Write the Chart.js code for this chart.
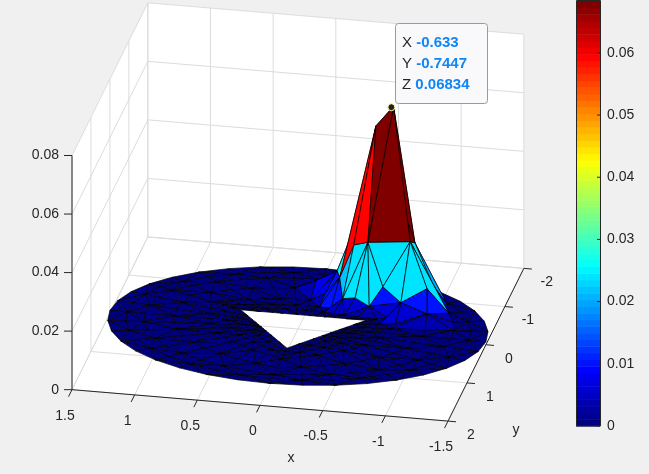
<!DOCTYPE html>
<html>
<head>
<meta charset="utf-8">
<script src="https://cdn.jsdelivr.net/npm/chart.js@4"></script>
<style>
  html, body { margin: 0; padding: 0; background: #f0f0f0; }
  canvas { display: block; }
</style>
</head>
<body>
<canvas id="c" width="649" height="474"></canvas>
<script>
// axis ticks
const xTicks = [1.5, 1, 0.5, 0, -0.5, -1, -1.5];
const yTicks = [-2, -1, 0, 1, 2];
const zTicks = [0, 0.02, 0.04, 0.06, 0.08];
const cbTicks = [0, 0.01, 0.02, 0.03, 0.04, 0.05, 0.06];

// mesh: disk radius 1.5 with a triangular hole, rings x angle steps
const outerR = 1.5;
const holeInR = 0.2887;
const ringFractions = [0, 0.1, 0.2, 0.32, 0.56, 0.76, 0.88, 1];
const angleCount = 36;
const baseZ = 0.001;
// raised nodes: [ring, angleIndex, z]
const raisedNodes = [
  [4, 20, 0.004], [4, 21, 0.010], [4, 22, 0.024], [4, 23, 0.06834], [4, 24, 0.060], [4, 25, 0.026], [4, 26, 0.008], [4, 27, 0.004],
  [3, 21, 0.006], [3, 22, 0.010], [3, 23, 0.024], [3, 24, 0.022], [3, 25, 0.010], [3, 26, 0.004],
  [5, 22, 0.008], [5, 23, 0.020], [5, 24, 0.018], [5, 25, 0.008],
  [2, 22, 0.004], [2, 23, 0.006], [2, 24, 0.005],
  [6, 23, 0.005], [6, 24, 0.004]
];
const tip = { x: -0.633, y: -0.7447, z: 0.06834 };
const cMax = 0.06834;

// view: screen = O + x*ex + y*ey + z*ez
const O = [297.5, 331], ex = [-127.3, -10.7], ey = [-19.25, 39], ez = [0, -2990];
function proj(x, y, z) {
  return [O[0] + x * ex[0] + y * ey[0] + z * ez[0], O[1] + x * ex[1] + y * ey[1] + z * ez[1]];
}
function depth(x, y, z) { return (-10.7 * x + 39 * y) * 3.04 + 2990 * z * 0.325; }

function jet(t) {
  t = Math.min(1, Math.max(0, t));
  t = Math.floor(t * 63) / 63;
  const c = v => Math.round(255 * Math.min(1, Math.max(0, v)));
  return `rgb(${c(1.5 - Math.abs(4 * t - 3))},${c(1.5 - Math.abs(4 * t - 2))},${c(1.5 - Math.abs(4 * t - 1))})`;
}

function buildMesh() {
  const zMap = {};
  raisedNodes.forEach(([k, j, z]) => zMap[k + ',' + j] = z);
  const nodes = [];
  ringFractions.forEach((f, k) => {
    nodes.push([]);
    for (let j = 0; j < angleCount; j++) {
      const a = j * 2 * Math.PI / angleCount;
      let m = -1;
      [270, 30, 150].forEach(n => m = Math.max(m, Math.cos(a - n * Math.PI / 180)));
      const rin = holeInR / m;
      const r = rin + (outerR - rin) * f;
      const z = zMap[k + ',' + j] !== undefined ? zMap[k + ',' + j] : baseZ;
      nodes[k].push([r * Math.cos(a), r * Math.sin(a), z]);
    }
  });
  const tris = [];
  for (let k = 0; k < ringFractions.length - 1; k++) {
    for (let j = 0; j < angleCount; j++) {
      const j2 = (j + 1) % angleCount;
      const a = nodes[k][j], b = nodes[k][j2], c = nodes[k + 1][j], d = nodes[k + 1][j2];
      if ((j + k) % 2 === 0) { tris.push([a, b, d]); tris.push([a, d, c]); }
      else { tris.push([a, b, c]); tris.push([b, d, c]); }
    }
  }
  return tris;
}
const tris = buildMesh();

const scenePlugin = {
  id: 'scene',
  beforeDatasetsDraw(chart) {
    const ctx = chart.ctx;
    const sx = chart.scales.x, sy = chart.scales.y;
    const P = (x, y, z) => { const p = proj(x, y, z); return [sx.getPixelForValue(p[0]), sy.getPixelForValue(p[1])]; };
    const line = (p, q, col, w) => {
      ctx.beginPath(); ctx.moveTo(p[0], p[1]); ctx.lineTo(q[0], q[1]);
      ctx.strokeStyle = col; ctx.lineWidth = w; ctx.stroke();
    };
    const zTop = 0.08;
    // white back panes
    ctx.save();
    ctx.fillStyle = '#ffffff';
    ctx.beginPath();
    [[1.5, 2, 0], [1.5, 2, zTop], [1.5, -2, zTop], [-1.5, -2, zTop], [-1.5, -2, 0], [-1.5, 2, 0]].forEach((v, i) => {
      const p = P(...v); i ? ctx.lineTo(p[0], p[1]) : ctx.moveTo(p[0], p[1]);
    });
    ctx.closePath(); ctx.fill();
    // grid
    const g = '#dcdcdc';
    xTicks.forEach(x => { line(P(x, 2, 0), P(x, -2, 0), g, 1); line(P(x, -2, 0), P(x, -2, zTop), g, 1); });
    yTicks.forEach(y => { line(P(1.5, y, 0), P(-1.5, y, 0), g, 1); line(P(1.5, y, 0), P(1.5, y, zTop), g, 1); });
    zTicks.forEach(z => { line(P(1.5, 2, z), P(1.5, -2, z), g, 1); line(P(1.5, -2, z), P(-1.5, -2, z), g, 1); });
    // surface
    const sorted = tris.map(t => ({ t, d: t.reduce((s, v) => s + depth(...v), 0) / 3 }))
      .sort((a, b) => a.d - b.d);
    ctx.lineJoin = 'round';
    sorted.forEach(({ t }) => {
      const zc = Math.max(t[0][2], t[1][2], t[2][2]);
      ctx.beginPath();
      t.forEach((v, i) => { const p = P(...v); i ? ctx.lineTo(p[0], p[1]) : ctx.moveTo(p[0], p[1]); });
      ctx.closePath();
      ctx.fillStyle = jet(zc / cMax); ctx.fill();
      ctx.strokeStyle = '#000'; ctx.lineWidth = 0.7; ctx.stroke();
    });
    // axes
    const ax = '#262626';
    line(P(1.5, 2, 0), P(-1.5, 2, 0), ax, 1);
    line(P(-1.5, 2, 0), P(-1.5, -2, 0), ax, 1);
    line(P(1.5, 2, 0), P(1.5, 2, zTop), ax, 1);
    ctx.fillStyle = ax;
    ctx.font = '14px "Liberation Sans", Arial, sans-serif';
    ctx.textBaseline = 'middle';
    ctx.textAlign = 'center';
    xTicks.forEach(x => {
      const p = P(x, 2, 0);
      line(p, [p[0] - 3.5, p[1] + 7], ax, 1);
      ctx.fillText(String(x), p[0] - 7, p[1] + 26);
    });
    yTicks.forEach(y => {
      const p = P(-1.5, y, 0);
      line(p, [p[0] + 8, p[1] + 0.7], ax, 1);
      ctx.fillText(String(y), p[0] + 23, p[1] + 14);
    });
    ctx.textAlign = 'right';
    zTicks.forEach(z => {
      const p = P(1.5, 2, z);
      line(p, [p[0] - 8, p[1]], ax, 1);
      ctx.fillText(String(z), p[0] - 13, p[1]);
    });
    ctx.textAlign = 'center';
    const xl = P(0, 2, 0), yl = P(-1.5, 0, 0);
    ctx.fillText('x', xl[0] + 31, xl[1] + 53);
    ctx.fillText('y', yl[0] + 30, yl[1] + 85);
    // colorbar
    const cb = { l: 576, r: 600, top: 1, bot: 426 };
    for (let i = 0; i < 64; i++) {
      const y0 = cb.bot - (cb.bot - cb.top) * (i + 1) / 64, y1 = cb.bot - (cb.bot - cb.top) * i / 64;
      ctx.fillStyle = jet(i / 63);
      ctx.fillRect(cb.l, y0, cb.r - cb.l, y1 - y0 + 0.5);
    }
    ctx.strokeStyle = ax; ctx.lineWidth = 1;
    ctx.strokeRect(cb.l + 0.5, cb.top - 0.5, cb.r - cb.l, cb.bot - cb.top + 0.5);
    ctx.fillStyle = ax; ctx.textAlign = 'left';
    cbTicks.forEach(v => {
      const y = cb.bot - (cb.bot - cb.top) * v / cMax;
      line([cb.r - 3, y], [cb.r, y], ax, 1);
      ctx.fillText(String(v), cb.r + 7, y);
    });
    // data tip box
    ctx.fillStyle = '#f9f9fc'; ctx.strokeStyle = '#9a9a9a';
    ctx.beginPath(); ctx.roundRect(395.5, 23.5, 92, 80, 3); ctx.fill(); ctx.stroke();
    const rows = [['X', tip.x], ['Y', tip.y], ['Z', tip.z]];
    rows.forEach(([k, v], i) => {
      const y = 43 + i * 21;
      ctx.font = '15px "Liberation Sans", Arial, sans-serif';
      ctx.fillStyle = '#262626'; ctx.fillText(k, 402, y);
      const w = ctx.measureText(k + ' ').width;
      ctx.font = 'bold 15px "Liberation Sans", Arial, sans-serif';
      ctx.fillStyle = '#0f86f5'; ctx.fillText(String(v), 402 + w, y);
    });
    ctx.restore();
  }
};

const tipPix = proj(tip.x, tip.y, tip.z);
new Chart(document.getElementById('c'), {
  type: 'scatter',
  data: {
    datasets: [{
      data: [{ x: tipPix[0], y: tipPix[1] }],
      pointRadius: 3.5,
      pointBackgroundColor: '#222222',
      pointBorderColor: '#ffffb0',
      pointBorderWidth: 1
    }]
  },
  options: {
    responsive: false,
    animation: false,
    layout: { padding: 0 },
    plugins: { legend: { display: false }, tooltip: { enabled: false } },
    scales: {
      x: { type: 'linear', min: 0, max: 649, display: false },
      y: { type: 'linear', min: 0, max: 474, reverse: true, display: false }
    }
  },
  plugins: [scenePlugin]
});
</script>
</body>
</html>
